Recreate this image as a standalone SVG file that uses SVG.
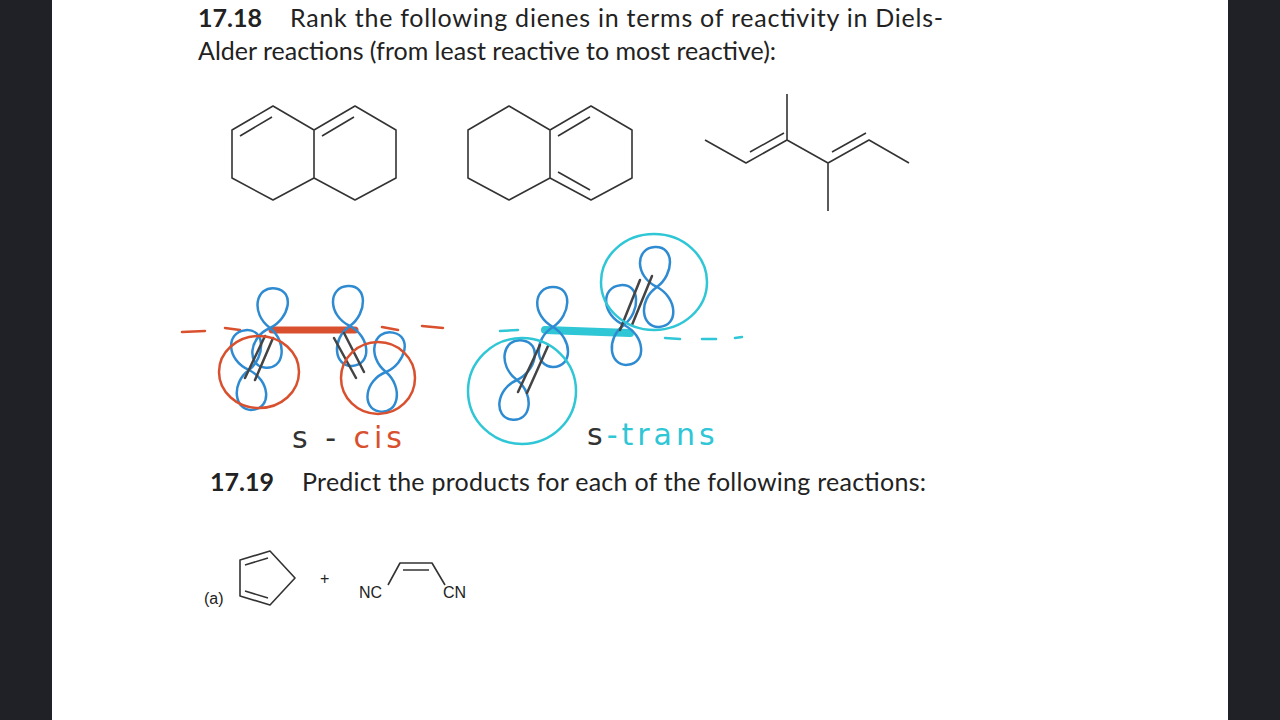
<svg xmlns="http://www.w3.org/2000/svg" width="1280" height="720" viewBox="0 0 1280 720">
<style>
.m{fill:none;stroke:#333;stroke-width:1.6;stroke-linejoin:round}
.orb{fill:none;stroke:#2f8bd1;stroke-width:2.5}
.bd{stroke:#444;stroke-width:2.5;stroke-linecap:round}
.red{fill:none;stroke:#d9502e;stroke-width:2.5;stroke-linecap:round}
.cy{fill:none;stroke:#2fc6d6;stroke-width:2.5;stroke-linecap:round}
.t{font-family:Lato,"Noto Sans",sans-serif;font-size:25px;fill:#222}
.hw{font-family:"DejaVu Sans",sans-serif;font-size:30px;letter-spacing:4px}
</style>
<defs>
<path id="p" d="M0,0 C-22,-12 -20,-40 0,-40 C20,-40 18,-12 0,0 C-20,12 -18,40 0,40 C20,40 20,12 0,0Z"/>
</defs>
<rect width="1280" height="720" fill="#fff"/>
<rect width="52" height="720" fill="#1f2127"/>
<rect x="1228" width="52" height="720" fill="#1f2127"/>
<text class="t" x="198" y="27" font-weight="bold">17.18</text>
<text class="t" x="290" y="27" textLength="653" lengthAdjust="spacing">Rank the following dienes in terms of reactivity in Diels-</text>
<text class="t" x="198" y="60">Alder reactions (from least reactive to most reactive):</text>
<g id="mol1" class="m">
<path d="M232,130 L273,106 L314,130 L314,178 L273,200 L232,178Z M314,130 L355,106 L396,130 L396,178 L355,200 L314,178"/>
<path d="M240,136 L272,117 M322,136 L354,117"/>
</g>
<g id="mol2" class="m">
<path d="M468,130 L509,106 L550,130 L550,178 L509,200 L468,178Z M550,130 L591,106 L632,130 L632,178 L591,200 L550,178"/>
<path d="M558,136 L590,117 M558,172 L590,190"/>
</g>
<g id="mol3" class="m">
<path d="M705,140 L746,163 L787,140 L828,163 L869,140 L909,163 M787,140 L787,94 M828,163 L828,211"/>
<path d="M750,152 L784,133 M832,152 L866,133"/>
</g>
<g id="scis">
<path class="red" d="M182,332 L205,331 M225,328 L240,330 M382,327 L398,330 M422,326 L443,328"/>
<line x1="272" y1="330" x2="355" y2="330" stroke="#d9502e" stroke-width="7" stroke-linecap="round"/>
<use href="#p" class="orb" transform="translate(270,328) rotate(8)"/>
<use href="#p" class="orb" transform="translate(249,370) rotate(-5)"/>
<use href="#p" class="orb" transform="translate(350,326) rotate(-3)"/>
<use href="#p" class="orb" transform="translate(386,372) rotate(10)"/>
<path class="bd" d="M265,336 L245,378 M273,338 L255,380 M334,338 L356,378 M344,333 L364,372"/>
<ellipse class="red" cx="259" cy="372" rx="40" ry="36"/>
<ellipse class="red" cx="378" cy="378" rx="37" ry="36"/>
<text class="hw" x="292" y="448" fill="#333">s -<tspan fill="#d9502e"> cis</tspan></text>
</g>
<g id="strans">
<path class="cy" d="M500,331 L518,330 M665,338 L680,339 M702,339 L716,339 M735,338 L742,337"/>
<line x1="545" y1="330" x2="630" y2="333" stroke="#2fc6d6" stroke-width="8" stroke-linecap="round"/>
<use href="#p" class="orb" transform="translate(553,327) rotate(0)"/>
<use href="#p" class="orb" transform="translate(517,380) rotate(8)"/>
<use href="#p" class="orb" transform="translate(624,325) rotate(-5)"/>
<use href="#p" class="orb" transform="translate(657,287) rotate(-3)"/>
<path class="bd" d="M540,345 L518,392 M548,346 L527,393 M640,280 L620,330 M652,276 L632,325"/>
<ellipse class="cy" cx="522" cy="391" rx="54" ry="53"/>
<ellipse class="cy" cx="654" cy="282" rx="53" ry="48"/>
<text class="hw" x="587" y="445" fill="#333">s<tspan fill="#2fc6d6">-trans</tspan></text>
</g>
<text class="t" x="210" y="491" font-weight="bold">17.19</text>
<text class="t" x="302" y="491" textLength="624" lengthAdjust="spacing">Predict the products for each of the following reactions:</text>
<g id="rxn" font-family="Liberation Sans,Arial,sans-serif" font-size="16" fill="#222">
<text x="204" y="604">(a)</text>
<path class="m" stroke-width="1.3" d="M240,560 L270,551 L295,578 L270,605 L240,596Z M245,565 L268,558 M245,591 L268,598"/>
<text x="320" y="584">+</text>
<path class="m" stroke-width="1.3" d="M388,585 L400,563 L432,563 L445,585 M403,570 L429,570"/>
<text x="359" y="598">NC</text>
<text x="443" y="598">CN</text>
</g>
</svg>
